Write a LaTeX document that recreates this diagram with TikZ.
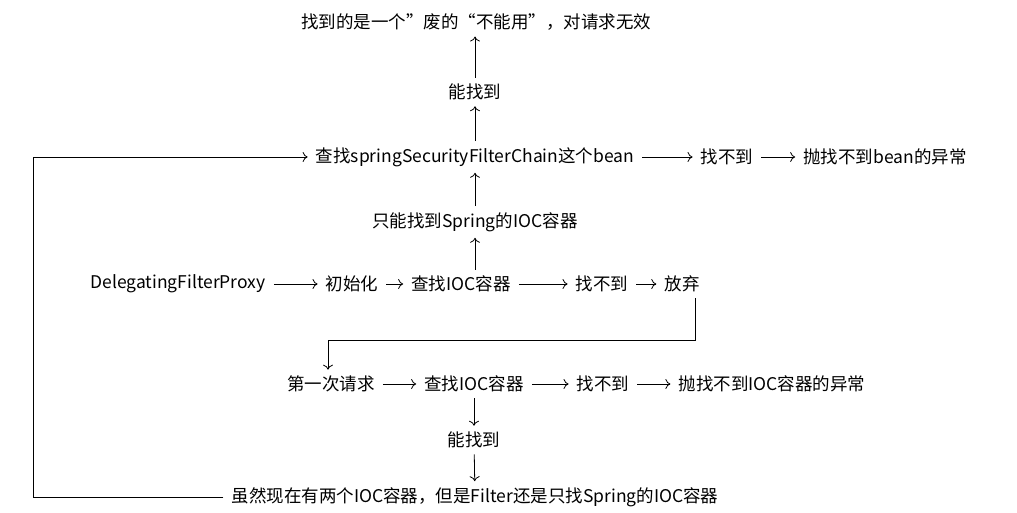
\documentclass[tikz,border=0pt]{standalone}
\usepackage{fontspec}
\usetikzlibrary{arrows.meta}
\setmainfont{Noto Sans CJK SC}
\begin{document}
\begin{tikzpicture}[x=1pt,y=-1pt,
  lbl/.style={inner xsep=8pt,inner ysep=6pt,font=\fontsize{17.5}{20}\selectfont},
  arr/.style={-{To[length=5pt,width=10pt]},line width=0.8pt}]
\useasboundingbox[fill=white] (0,0) rectangle (1017,513);
\node[lbl] (top) at (476,22) {找到的是一个”废的“不能用”，对请求无效};
\node[lbl] (f1) at (475,92) {能找到};
\node[lbl] (chain) at (475,157) {查找springSecurityFilterChain这个bean};
\node[lbl] (nf1) at (727,157) {找不到};
\node[lbl] (ex1) at (885,157) {抛找不到bean的异常};
\node[lbl] (only) at (475,222) {只能找到Spring的IOC容器};
\node[lbl] (dfp) at (178,284) {DelegatingFilterProxy};
\node[lbl] (init) at (352,284) {初始化};
\node[lbl] (ioc1) at (461,284) {查找IOC容器};
\node[lbl] (nf2) at (602,284) {找不到};
\node[lbl] (give) at (682,284) {放弃};
\node[lbl] (req) at (331,384) {第一次请求};
\node[lbl] (ioc2) at (474,384) {查找IOC容器};
\node[lbl] (nf3) at (603,384) {找不到};
\node[lbl] (ex2) at (772,384) {抛找不到IOC容器的异常};
\node[lbl] (f2) at (474,440) {能找到};
\node[lbl] (bot) at (475,497) {虽然现在有两个IOC容器，但是Filter还是只找Spring的IOC容器};
\draw[arr] (f1) -- (f1 |- top.south);
\draw[arr] (chain) -- (f1);
\draw[arr] (only) -- (chain);
\draw[arr] (ioc1.north -| only) -- (only);
\draw[arr] (chain) -- (nf1);
\draw[arr] (nf1) -- (ex1);
\draw[arr] (dfp) -- (init);
\draw[arr] (init) -- (ioc1);
\draw[arr] (ioc1) -- (nf2);
\draw[arr] (nf2) -- (give);
\draw[arr] (req) -- (ioc2);
\draw[arr] (ioc2) -- (nf3);
\draw[arr] (nf3) -- (ex2);
\draw[arr] (ioc2) -- (f2);
\draw[arr] (f2) -- (bot);
\coordinate (g1) at (695,340);
\coordinate (g2) at (328,340);
\draw[line width=0.8pt] (give.south -| g1) -- (g1) -- (g2);
\draw[arr] (g2) -- (req.north -| g2);
\coordinate (l1) at (33,497);
\coordinate (l2) at (33,157);
\draw[line width=0.8pt] (bot.west) -- (l1) -- (l2);
\draw[arr] (l2) -- (chain.west);
\end{tikzpicture}
\end{document}
